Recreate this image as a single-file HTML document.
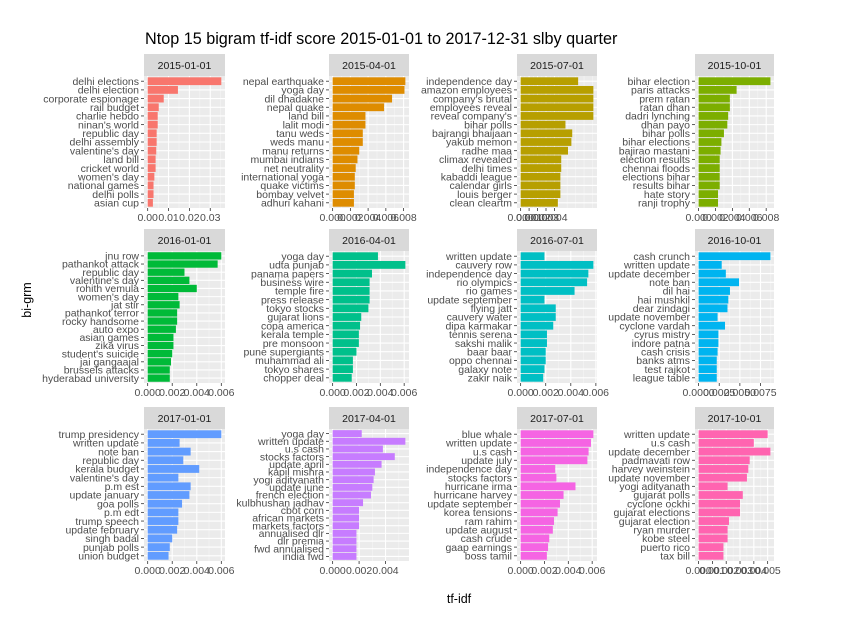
<!DOCTYPE html>
<html><head><meta charset="utf-8">
<style>
body{margin:0;background:#fff;}
svg{display:block;font-family:"Liberation Sans",Arial,sans-serif;}
</style></head>
<body>
<svg id="chart" width="853" height="624" viewBox="0 0 853 624">
<rect width="853" height="624" fill="#fff"/>
<text x="145" y="44" font-size="16.2" fill="#000">Ntop 15 bigram tf-idf score 2015-01-01 to 2017-12-31 slby quarter</text>
<text transform="translate(31,300) rotate(-90)" text-anchor="middle" font-size="12.5" fill="#000">bi-grm</text>
<text x="459" y="603" text-anchor="middle" font-size="12.5" fill="#000">tf-idf</text>
<g id="panels"></g>
</svg>
<script>
const quarters = ["2015-01-01","2015-04-01","2015-07-01","2015-10-01","2016-01-01","2016-04-01","2016-07-01","2016-10-01","2017-01-01","2017-04-01","2017-07-01","2017-10-01"];
const colors = ["#F8766D","#DE8C00","#B79F00","#7CAE00","#00BA38","#00C08B","#00BFC4","#00B4F0","#619CFF","#C77CFF","#F564E3","#FF64B0"];
const terms0 = ["delhi elections","delhi election","corporate espionage","rail budget","charlie hebdo","ninan's world","republic day","delhi assembly","valentine's day","land bill","cricket world","women's day","national games","delhi polls","asian cup"];
const vals0 = [0.0353,0.0145,0.0077,0.0053,0.0048,0.0048,0.0043,0.0043,0.0041,0.0038,0.0038,0.0032,0.0028,0.0028,0.0025];
const terms1 = ["nepal earthquake","yoga day","dil dhadakne","nepal quake","land bill","lalit modi","tanu weds","weds manu","manu returns","mumbai indians","net neutrality","international yoga","quake victims","bombay velvet","adhuri kahani"];
const vals1 = [0.0082,0.0081,0.0067,0.0058,0.0037,0.0037,0.0034,0.0034,0.0030,0.0028,0.0026,0.0025,0.0025,0.0024,0.0024];
const terms2 = ["independence day","amazon employees","company's brutal","employees reveal","reveal company's","bihar polls","bajrangi bhaijaan","yakub memon","radhe maa","climax revealed","delhi times","kabaddi league","calendar girls","louis berger","clean cleartm"];
const vals2 = [0.0068,0.0086,0.0086,0.0086,0.0086,0.0053,0.0061,0.0060,0.0056,0.0048,0.0048,0.0047,0.0047,0.0047,0.0044];
const terms3 = ["bihar election","paris attacks","prem ratan","ratan dhan","dadri lynching","dhan payo","bihar polls","bihar elections","bajirao mastani","election results","chennai floods","elections bihar","results bihar","hate story","ranji trophy"];
const vals3 = [0.0085,0.0045,0.0037,0.0037,0.0035,0.0034,0.0030,0.0027,0.0026,0.0025,0.0025,0.0025,0.0025,0.0023,0.0023];
const terms4 = ["jnu row","pathankot attack","republic day","valentine's day","rohith vemula","women's day","jat stir","pathankot terror","rocky handsome","auto expo","asian games","zika virus","student's suicide","jai gangaajal","brussels attacks","hyderabad university"];
const vals4 = [0.0060,0.0057,0.0030,0.0034,0.0040,0.0025,0.0026,0.0024,0.0024,0.0023,0.0021,0.0021,0.0020,0.0019,0.0018,0.0018];
const terms5 = ["yoga day","udta punjab","panama papers","business wire","temple fire","press release","tokyo stocks","gujarat lions","copa america","kerala temple","pre monsoon","pune supergiants","muhammad ali","tokyo shares","chopper deal"];
const vals5 = [0.0038,0.0061,0.0033,0.0031,0.0031,0.0031,0.0030,0.0024,0.0023,0.0022,0.0022,0.0020,0.0017,0.0017,0.0016];
const terms6 = ["written update","cauvery row","independence day","rio olympics","rio games","update september","flying jatt","cauvery water","dipa karmakar","tennis serena","sakshi malik","baar baar","oppo chennai","galaxy note","zakir naik"];
const vals6 = [0.0019,0.0058,0.0054,0.0053,0.0043,0.0019,0.0028,0.0028,0.0026,0.0021,0.0021,0.0020,0.0020,0.0019,0.0018];
const terms7 = ["cash crunch","written update","update december","note ban","dil hai","hai mushkil","dear zindagi","update november","cyclone vardah","cyrus mistry","indore patna","cash crisis","banks atms","test rajkot","league table"];
const vals7 = [0.0087,0.0028,0.0033,0.0049,0.0038,0.0036,0.0035,0.0023,0.0032,0.0024,0.0024,0.0023,0.0022,0.0022,0.0022];
const terms8 = ["trump presidency","written update","note ban","republic day","kerala budget","valentine's day","p.m est","update january","goa polls","p.m edt","trump speech","update february","singh badal","punjab polls","union budget"];
const vals8 = [0.0060,0.0026,0.0035,0.0029,0.0042,0.0025,0.0035,0.0034,0.0028,0.0025,0.0025,0.0024,0.0020,0.0018,0.0017];
const terms9 = ["yoga day","written update","u.s cash","stocks factors","update april","kapil mishra","yogi adityanath","update june","french election","kulbhushan jadhav","cbot corn","african markets","markets factors","annualised dlr","dlr premia","fwd annualised","india fwd"];
const vals9 = [0.0022,0.0055,0.0038,0.0047,0.0037,0.0032,0.0031,0.0030,0.0029,0.0023,0.0020,0.0020,0.0020,0.0018,0.0018,0.0018,0.0018];
const terms10 = ["blue whale","written update","u.s cash","update july","independence day","stocks factors","hurricane irma","hurricane harvey","update september","korea tensions","ram rahim","update august","cash crude","gaap earnings","boss tamil"];
const vals10 = [0.0061,0.0059,0.0057,0.0056,0.0029,0.0030,0.0046,0.0036,0.0033,0.0031,0.0028,0.0027,0.0024,0.0023,0.0022];
const terms11 = ["written update","u.s cash","update december","padmavati row","harvey weinstein","update november","yogi adityanath","gujarat polls","cyclone ockhi","gujarat elections","gujarat election","ryan murder","kobe steel","puerto rico","tax bill"];
const vals11 = [0.0050,0.0040,0.0052,0.0037,0.0036,0.0035,0.0021,0.0032,0.0030,0.0030,0.0022,0.0021,0.0021,0.0018,0.0018];
const ticks0 = [0,0.01,0.02,0.03], tickLabels0 = ["0.00","0.01","0.02","0.03"];
const ticksA = [0,0.002,0.004,0.006,0.008], tickLabelsA = ["0.000","0.002","0.004","0.006","0.008"];
const ticksB = [0,0.001,0.002,0.003,0.004], tickLabelsB = ["0.000","0.001","0.002","0.003","0.004"];
const ticksC = [0,0.002,0.004,0.006], tickLabelsC = ["0.000","0.002","0.004","0.006"];
const ticksD = [0,0.0025,0.005,0.0075], tickLabelsD = ["0.0000","0.0025","0.0050","0.0075"];
const ticksE = [0,0.002,0.004], tickLabelsE = ["0.000","0.002","0.004"];
const ticksF = [0,0.001,0.002,0.003,0.004,0.005], tickLabelsF = ["0.000","0.001","0.002","0.003","0.004","0.005"];

const allTerms=[terms0,terms1,terms2,terms3,terms4,terms5,terms6,terms7,terms8,terms9,terms10,terms11];
const allVals=[vals0,vals1,vals2,vals3,vals4,vals5,vals6,vals7,vals8,vals9,vals10,vals11];
const allTicks=[ticks0,ticksA,ticksB,ticksA,ticksC,ticksC,ticksC,ticksD,ticksC,ticksE,ticksC,ticksF];
const allTickLabels=[tickLabels0,tickLabelsA,tickLabelsB,tickLabelsA,tickLabelsC,tickLabelsC,tickLabelsC,tickLabelsD,tickLabelsC,tickLabelsE,tickLabelsC,tickLabelsF];

const colLeft=[144,329,517,695], colW=[81,80,80,79];
const rowStrip=[54,229,407], stripH=22, plotH=132;
const NS="http://www.w3.org/2000/svg";
const root=document.getElementById('panels');
function mk(tag,attrs,parent){const e=document.createElementNS(NS,tag);for(const k in attrs)e.setAttribute(k,attrs[k]);parent.appendChild(e);return e;}

for(let p=0;p<12;p++){
  const r=Math.floor(p/4), c=p%4;
  const L=colLeft[c], W=colW[c], sT=rowStrip[r], T=sT+stripH, H=plotH;
  const terms=allTerms[p], vals=allVals[p], ticks=allTicks[p], tl=allTickLabels[p];
  const n=terms.length, maxV=Math.max(...vals);
  const x=v=>L+W*(0.05/1.1)+v/(maxV*1.1)*W;
  const step=H/(n+0.2);
  const y=i=>T+step*(0.6+i);
  const g=mk('g',{},root);
  
  
  const st=mk('rect',{x:L,y:sT,width:W,height:stripH,fill:'#D9D9D9'},g);
  
  
  const stt=mk('text',{x:L+W/2,y:sT+15,'text-anchor':'middle','font-size':'10.5',fill:'#1A1A1A'},g);
  stt.textContent=quarters[p];
  
  
  const bg=mk('rect',{x:L,y:T,width:W,height:H,fill:'#EBEBEB'},g);
  
  
  const dt=ticks[1]-ticks[0];
  for(let v=dt/2; x(v)<L+W; v+=dt){mk('line',{x1:x(v),x2:x(v),y1:T,y2:T+H,stroke:'#F5F5F5','stroke-width':0.6},g);}
  for(let v=-dt/2; x(v)>L; v-=dt){mk('line',{x1:x(v),x2:x(v),y1:T,y2:T+H,stroke:'#F5F5F5','stroke-width':0.6},g);}
  for(let i=0;i<n;i++){mk('line',{x1:L,x2:L+W,y1:y(i),y2:y(i),stroke:'#fff','stroke-width':1.1},g);}
  ticks.forEach((v,k)=>{
    if(x(v)>L+W+0.5)return;
    mk('line',{x1:x(v),x2:x(v),y1:T,y2:T+H,stroke:'#fff','stroke-width':1.1},g);
    mk('line',{x1:x(v),x2:x(v),y1:T+H,y2:T+H+3,stroke:'#333','stroke-width':0.8},g);
    const t=mk('text',{x:x(v),y:T+H+13,'text-anchor':'middle','font-size':'10.5',fill:'#4D4D4D'},g);
    t.textContent=tl[k];
    
    
  });
  for(let i=0;i<n;i++){
    const b=mk('rect',{x:x(0),y:y(i)-step*0.45,width:x(vals[i])-x(0),height:step*0.9,fill:colors[p]},g);
    
    
    mk('line',{x1:L-3,x2:L,y1:y(i),y2:y(i),stroke:'#333','stroke-width':0.8},g);
    const t=mk('text',{x:L-5,y:y(i)+3.7,'text-anchor':'end','font-size':'10.5',fill:'#4D4D4D'},g);
    t.textContent=terms[i];
    
    
  }
}
</script>
</body></html>
